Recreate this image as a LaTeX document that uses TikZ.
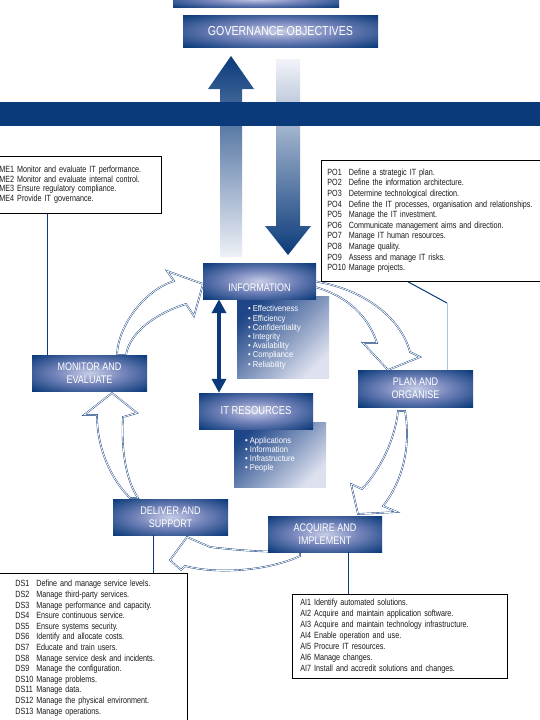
\documentclass[tikz,border=0pt]{standalone}
\usepackage{fontspec}
\setmainfont{Liberation Sans}
\newfontfamily\listfont{Liberation Sans}[FakeStretch=0.8]
\newfontfamily\labfont{Liberation Sans}[FakeStretch=0.82]
\newfontfamily\bulfont{Liberation Sans}[FakeStretch=0.9]
\usetikzlibrary{arrows.meta,calc}
\definecolor{navy}{HTML}{0A3A7A}
\definecolor{glowc}{HTML}{C6CCE6}
\definecolor{glowm}{HTML}{7484BA}
\definecolor{panelA}{HTML}{1E4587}
\definecolor{panelB}{HTML}{DDE1EF}
\definecolor{fadeup}{HTML}{EEF1F7}
\definecolor{upmid}{HTML}{5670AA}
\definecolor{fadedown}{HTML}{F2F4F9}
\definecolor{downmid}{HTML}{8597C4}
\definecolor{connlight}{HTML}{A9C4E4}
\definecolor{listtext}{HTML}{1A1A1A}
\pgfdeclareradialshading{boxglow}{\pgfpoint{0bp}{0bp}}{color(0bp)=(glowc); color(15bp)=(glowm); color(35bp)=(navy); color(50bp)=(navy)}
\tikzset{
  procbox/.style={shading=boxglow, draw=none, text=white, font=\labfont\fontsize{11}{13}\selectfont, align=center, inner sep=0pt},
  listbox/.style={draw=black, line width=0.8pt, fill=white, text=listtext, font=\listfont\fontsize{9}{10.6}\selectfont, align=left, anchor=north west, inner ysep=0pt},
  panel/.style={top color=panelA, bottom color=panelB, shading angle=45, text=white, font=\bulfont\fontsize{8.5}{9.2}\selectfont, align=left, anchor=north west, inner ysep=0pt},
  conn/.style={draw=navy, line width=1pt},
  connlt/.style={draw=connlight, line width=1pt},
  swoosh/.style={draw=navy, line width=0.4pt, double=white, double distance=0.8pt, fill=white, line join=miter},
}
\begin{document}
\begin{tikzpicture}[x=1pt,y=-1pt]
\useasboundingbox (0,0) rectangle (540,720);
\clip (0,0) rectangle (540,720);
\fill[white] (0,0) rectangle (540,720);

% vertical gradient arrows
\shade[top color=navy, middle color=upmid, bottom color=fadeup] (220,257) -- (220,89) -- (208,89) -- (231,56) -- (254,89) -- (242,89) -- (242,257) -- cycle;
\shade[top color=fadedown, middle color=downmid, bottom color=navy] (276,59) -- (300,59) -- (300,226) -- (311,226) -- (288,255) -- (265,226) -- (276,226) -- cycle;

% horizontal bar
\fill[navy] (0,102) rectangle (540,126);

% top boxes
\node[procbox, minimum width=166pt, minimum height=17pt] (topbar) at (256,-1) {};
\node[procbox, minimum width=195pt, minimum height=32pt, font=\labfont\fontsize{13}{15}\selectfont] (gov) at (280.5,31) {GOVERNANCE OBJECTIVES};

% curved outline arrows
\path[swoosh] (117,355) .. controls (118,325) and (145,290) .. (174,281) -- (167,271) -- (203,284) -- (194,316) -- (186,304) .. controls (160,312) and (130,330) .. (126,355) -- cycle;
\path[swoosh] (313,281) .. controls (360,288) and (400,315) .. (410,352) -- (420,357) -- (388,370) -- (363,343) -- (377,343) .. controls (368,315) and (345,295) .. (315,287) -- cycle;
\path[swoosh] (405,411) .. controls (412,450) and (400,485) .. (383,506) -- (397,512) -- (358,514) -- (351,484) -- (362,489) .. controls (380,470) and (395,440) .. (398,411) -- cycle;
\path[swoosh] (300,551) .. controls (270,553) and (235,550) .. (210,547) -- (187,537) -- (170,560) -- (181,570) -- (185,566) .. controls (220,575) and (270,570) .. (300,556) -- cycle;
\path[swoosh] (130,498) .. controls (112,480) and (97,450) .. (97,415) -- (84,415) -- (112,393) -- (137,413) -- (123,417) .. controls (121,450) and (126,480) .. (138,498) -- cycle;

% bullet panels
\node[panel, minimum width=92pt, minimum height=82pt, inner xsep=11pt, text width=70pt] (infopanel) at (237,296)
  {\textbullet\hspace{2pt}Effectiveness\\\textbullet\hspace{2pt}Efficiency\\\textbullet\hspace{2pt}Confidentiality\\\textbullet\hspace{2pt}Integrity\\\textbullet\hspace{2pt}Availability\\\textbullet\hspace{2pt}Compliance\\\textbullet\hspace{2pt}Reliability};
\node[panel, minimum width=92pt, minimum height=65pt, inner xsep=11pt, text width=70pt] (itpanel) at (234,422)
  {\textbullet\hspace{2pt}Applications\\\textbullet\hspace{2pt}Information\\\textbullet\hspace{2pt}Infrastructure\\\textbullet\hspace{2pt}People};

% process boxes
\node[procbox, minimum width=113pt, minimum height=36pt] (info) at (259.5,281) {\raisebox{-7pt}[\height][\depth]{INFORMATION}};
\node[procbox, minimum width=114pt, minimum height=36pt, font=\labfont\fontsize{11.5}{13}\selectfont] (itres) at (256,411) {IT RESOURCES};
\node[procbox, minimum width=115pt, minimum height=36pt] (monitor) at (89.5,373) {MONITOR AND\\EVALUATE};
\node[procbox, minimum width=115pt, minimum height=36pt] (deliver) at (170.5,517) {DELIVER AND\\SUPPORT};
\node[procbox, minimum width=115pt, minimum height=37pt] (plan) at (415.5,388.5) {PLAN AND\\ORGANISE};
\node[procbox, minimum width=114pt, minimum height=36pt] (acquire) at (325,534) {ACQUIRE AND\\IMPLEMENT};

% list boxes
\node[listbox, inner xsep=1pt, text width=161pt, minimum height=57pt, font=\listfont\fontsize{9}{9.5}\selectfont] (me) at (-2,156)
  {ME1 Monitor and evaluate IT performance.\\ME2 Monitor and evaluate internal control.\\ME3 Ensure regulatory compliance.\\ME4 Provide IT governance.};
\node[listbox, inner xsep=6pt, text width=226pt, minimum height=121pt] (po) at (321,160)
  {\begin{tabular}{@{}l@{\hspace{3pt}}l@{}}
  PO1 & Define a strategic IT plan.\\
  PO2 & Define the information architecture.\\
  PO3 & Determine technological direction.\\
  PO4 & Define the IT processes, organisation and relationships.\\
  PO5 & Manage the IT investment.\\
  PO6 & Communicate management aims and direction.\\
  PO7 & Manage IT human resources.\\
  PO8 & Manage quality.\\
  PO9 & Assess and manage IT risks.\\
  PO10 & Manage projects.
  \end{tabular}};
\node[listbox, inner xsep=17pt, text width=155pt, minimum height=150pt] (ds) at (-2,573)
  {\begin{tabular}{@{}l@{\hspace{3pt}}l@{}}
  DS1 & Define and manage service levels.\\
  DS2 & Manage third-party services.\\
  DS3 & Manage performance and capacity.\\
  DS4 & Ensure continuous service.\\
  DS5 & Ensure systems security.\\
  DS6 & Identify and allocate costs.\\
  DS7 & Educate and train users.\\
  DS8 & Manage service desk and incidents.\\
  DS9 & Manage the configuration.\\
  DS10 & Manage problems.\\
  DS11 & Manage data.\\
  DS12 & Manage the physical environment.\\
  DS13 & Manage operations.
  \end{tabular}};
\node[listbox, inner xsep=8pt, text width=199pt, minimum height=84pt, font=\listfont\fontsize{9}{11}\selectfont] (ai) at (292,594)
  {AI1 Identify automated solutions.\\AI2 Acquire and maintain application software.\\AI3 Acquire and maintain technology infrastructure.\\AI4 Enable operation and use.\\AI5 Procure IT resources.\\AI6 Manage changes.\\AI7 Install and accredit solutions and changes.};

% connectors
\coordinate (mex) at (47,0);
\draw[conn] (me.south -| mex) -- (monitor.north -| mex);
\coordinate (pobend) at (447,303);
\coordinate (postart) at (408,0);
\draw[conn] (po.south -| postart) -- (pobend);
\draw[connlt] (pobend) -- (plan.north -| pobend);
\coordinate (dsx) at (153,0);
\draw[conn] (deliver.south -| dsx) -- (ds.north -| dsx);
\coordinate (aix) at (348,0);
\draw[conn] (acquire.south -| aix) -- (ai.north -| aix);
\coordinate (dax) at (219,0);
\draw[navy, line width=4.5pt, {Triangle[width=14pt,length=14pt]}-{Triangle[width=14pt,length=14pt]}] (info.south -| dax) -- (itres.north -| dax);
\end{tikzpicture}
\end{document}
